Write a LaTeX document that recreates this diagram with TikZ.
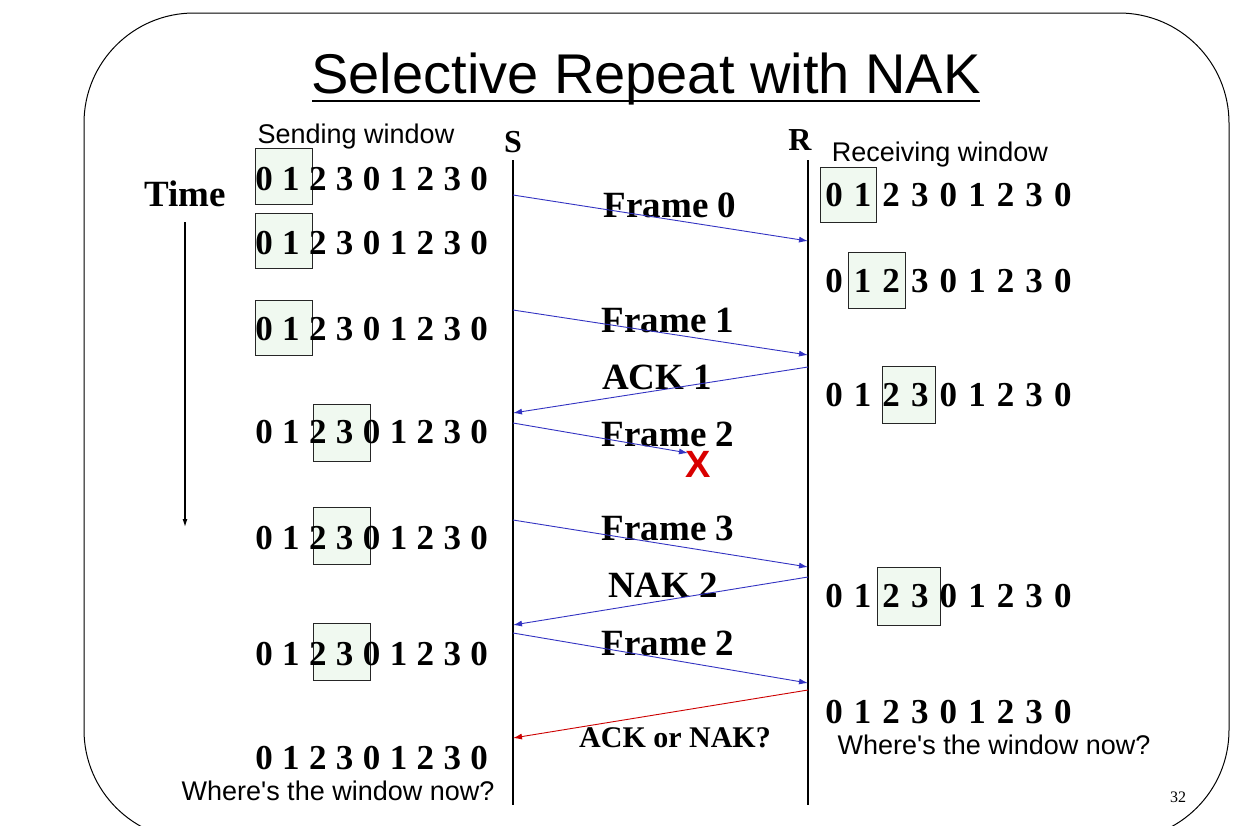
\documentclass[tikz,border=0pt]{standalone}
\usepackage{fontspec}
\usetikzlibrary{arrows.meta}
\setmainfont{Liberation Serif}
\newfontfamily\arial{Liberation Sans}
\begin{document}
\begin{tikzpicture}[x=1pt,y=-1pt,
  dig/.style={font=\bfseries\fontsize{35}{38}\selectfont,inner sep=0pt,anchor=base},
  lab/.style={font=\bfseries\fontsize{37}{40}\selectfont,inner sep=0pt,anchor=base},
  small/.style={font=\arial\fontsize{27}{30}\selectfont,inner sep=0pt,anchor=base},
  win/.style={draw=black!85,line width=1pt,fill=cyan!8!green!6},
  msg/.style={draw=blue!70!black!80,line width=0.9pt,-{Latex[length=9pt,width=6pt]}},
  bad/.style={draw=red!80!black,line width=0.9pt,-{Latex[length=9pt,width=6pt]}},
  tl/.style={line width=2.5pt}]
\useasboundingbox (0,0) rectangle (1253,825);
\draw[line width=1pt,rounded corners=110pt] (84,13) rectangle (1229,840);
\node[font=\arial\fontsize{56}{60}\selectfont,inner sep=0pt,anchor=base] (title) at (646,93) {Selective Repeat with NAK};
\draw[line width=2.5pt] (312,101) -- (980,101);
% windows
\draw[win] (255,148) rectangle (312,204);
\draw[win] (255,213) rectangle (312,268);
\draw[win] (255,300) rectangle (312,355);
\draw[win] (313,404) rectangle (370,461);
\draw[win] (313,507) rectangle (370,564);
\draw[win] (313,623) rectangle (370,680);
\draw[win] (820,167) rectangle (876,222);
\draw[win] (848,252) rectangle (905,308);
\draw[win] (882,366) rectangle (935,423);
\draw[win] (877,567) rectangle (940,625);
% digits
\foreach \r/\y in {1/190,2/254,3/340,4/443,5/549,6/665,7/769}{
  \foreach \d [count=\i from 0] in {0,1,2,3,0,1,2,3,0}{
    \node[dig] (s\r d\i) at (264+26.9*\i,\y) {\d};}}
\foreach \r/\y in {1/206,2/292,3/406,4/607,5/723}{
  \foreach \d [count=\i from 0] in {0,1,2,3,0,1,2,3,0}{
    \node[dig] (r\r d\i) at (834+28.6*\i,\y) {\d};}}
% time lines
\coordinate (St) at (513,160); \coordinate (Sb) at (513,805);
\coordinate (Rt) at (808,160); \coordinate (Rb) at (808,805);
\draw[tl] (St) -- (Sb); \draw[tl] (Rt) -- (Rb);
\node[lab,font=\bfseries\fontsize{32}{34}\selectfont] (S) at (513,152) {S};
\node[lab,font=\bfseries\fontsize{32}{34}\selectfont] (R) at (800,150) {R};
\node[small] (sw) at (356,143) {Sending window};
\node[small] (rw) at (940,161) {Receiving window};
\node[lab] (time) at (185,206) {Time};
\coordinate (ta) at (185,222); \coordinate (tb) at (185,527);
\draw[line width=1.2pt,-{Latex[length=8pt,width=5pt]}] (ta) -- (tb);
% messages
\coordinate (a1) at (513,195); \coordinate (b1) at (808,241);
\coordinate (a2) at (513,310); \coordinate (b2) at (808,355);
\coordinate (b3) at (808,367); \coordinate (a3) at (513,413);
\coordinate (a4) at (513,423); \coordinate (b4) at (688,453);
\coordinate (a5) at (513,520); \coordinate (b5) at (808,567);
\coordinate (b6) at (808,577); \coordinate (a6) at (513,625);
\coordinate (a7) at (513,633); \coordinate (b7) at (808,683);
\coordinate (b8) at (808,690); \coordinate (a8) at (513,738);
\node[lab] (f0) at (670,217) {Frame 0};
\node[lab] (f1) at (668,332) {Frame 1};
\node[lab] (k1) at (657,389) {ACK 1};
\node[lab] (f2) at (668,446) {Frame 2};
\node[lab] (f3) at (668,540) {Frame 3};
\node[lab] (n2) at (663,597) {NAK 2};
\node[lab] (f2b) at (668,655) {Frame 2};
\node[lab,font=\bfseries\fontsize{30}{32}\selectfont] (q) at (675,747) {ACK or NAK?};
\draw[msg] (a1) -- (b1);
\draw[msg] (a2) -- (b2);
\draw[msg] (b3) -- (a3);
\draw[msg] (a4) -- (b4);
\draw[msg] (a5) -- (b5);
\draw[msg] (b6) -- (a6);
\draw[msg] (a7) -- (b7);
\draw[bad] (b8) -- (a8);
\node[text=red!85!black,font=\arial\bfseries\fontsize{38}{38}\selectfont,inner sep=0pt] (x) at (698,464) {X};
\node[small] (wl) at (338,800) {Where's the window now?};
\node[small] (wr) at (994,754) {Where's the window now?};
\node[font=\fontsize{16}{18}\selectfont,inner sep=0pt] (pg) at (1178,797) {32};
\end{tikzpicture}
\end{document}
